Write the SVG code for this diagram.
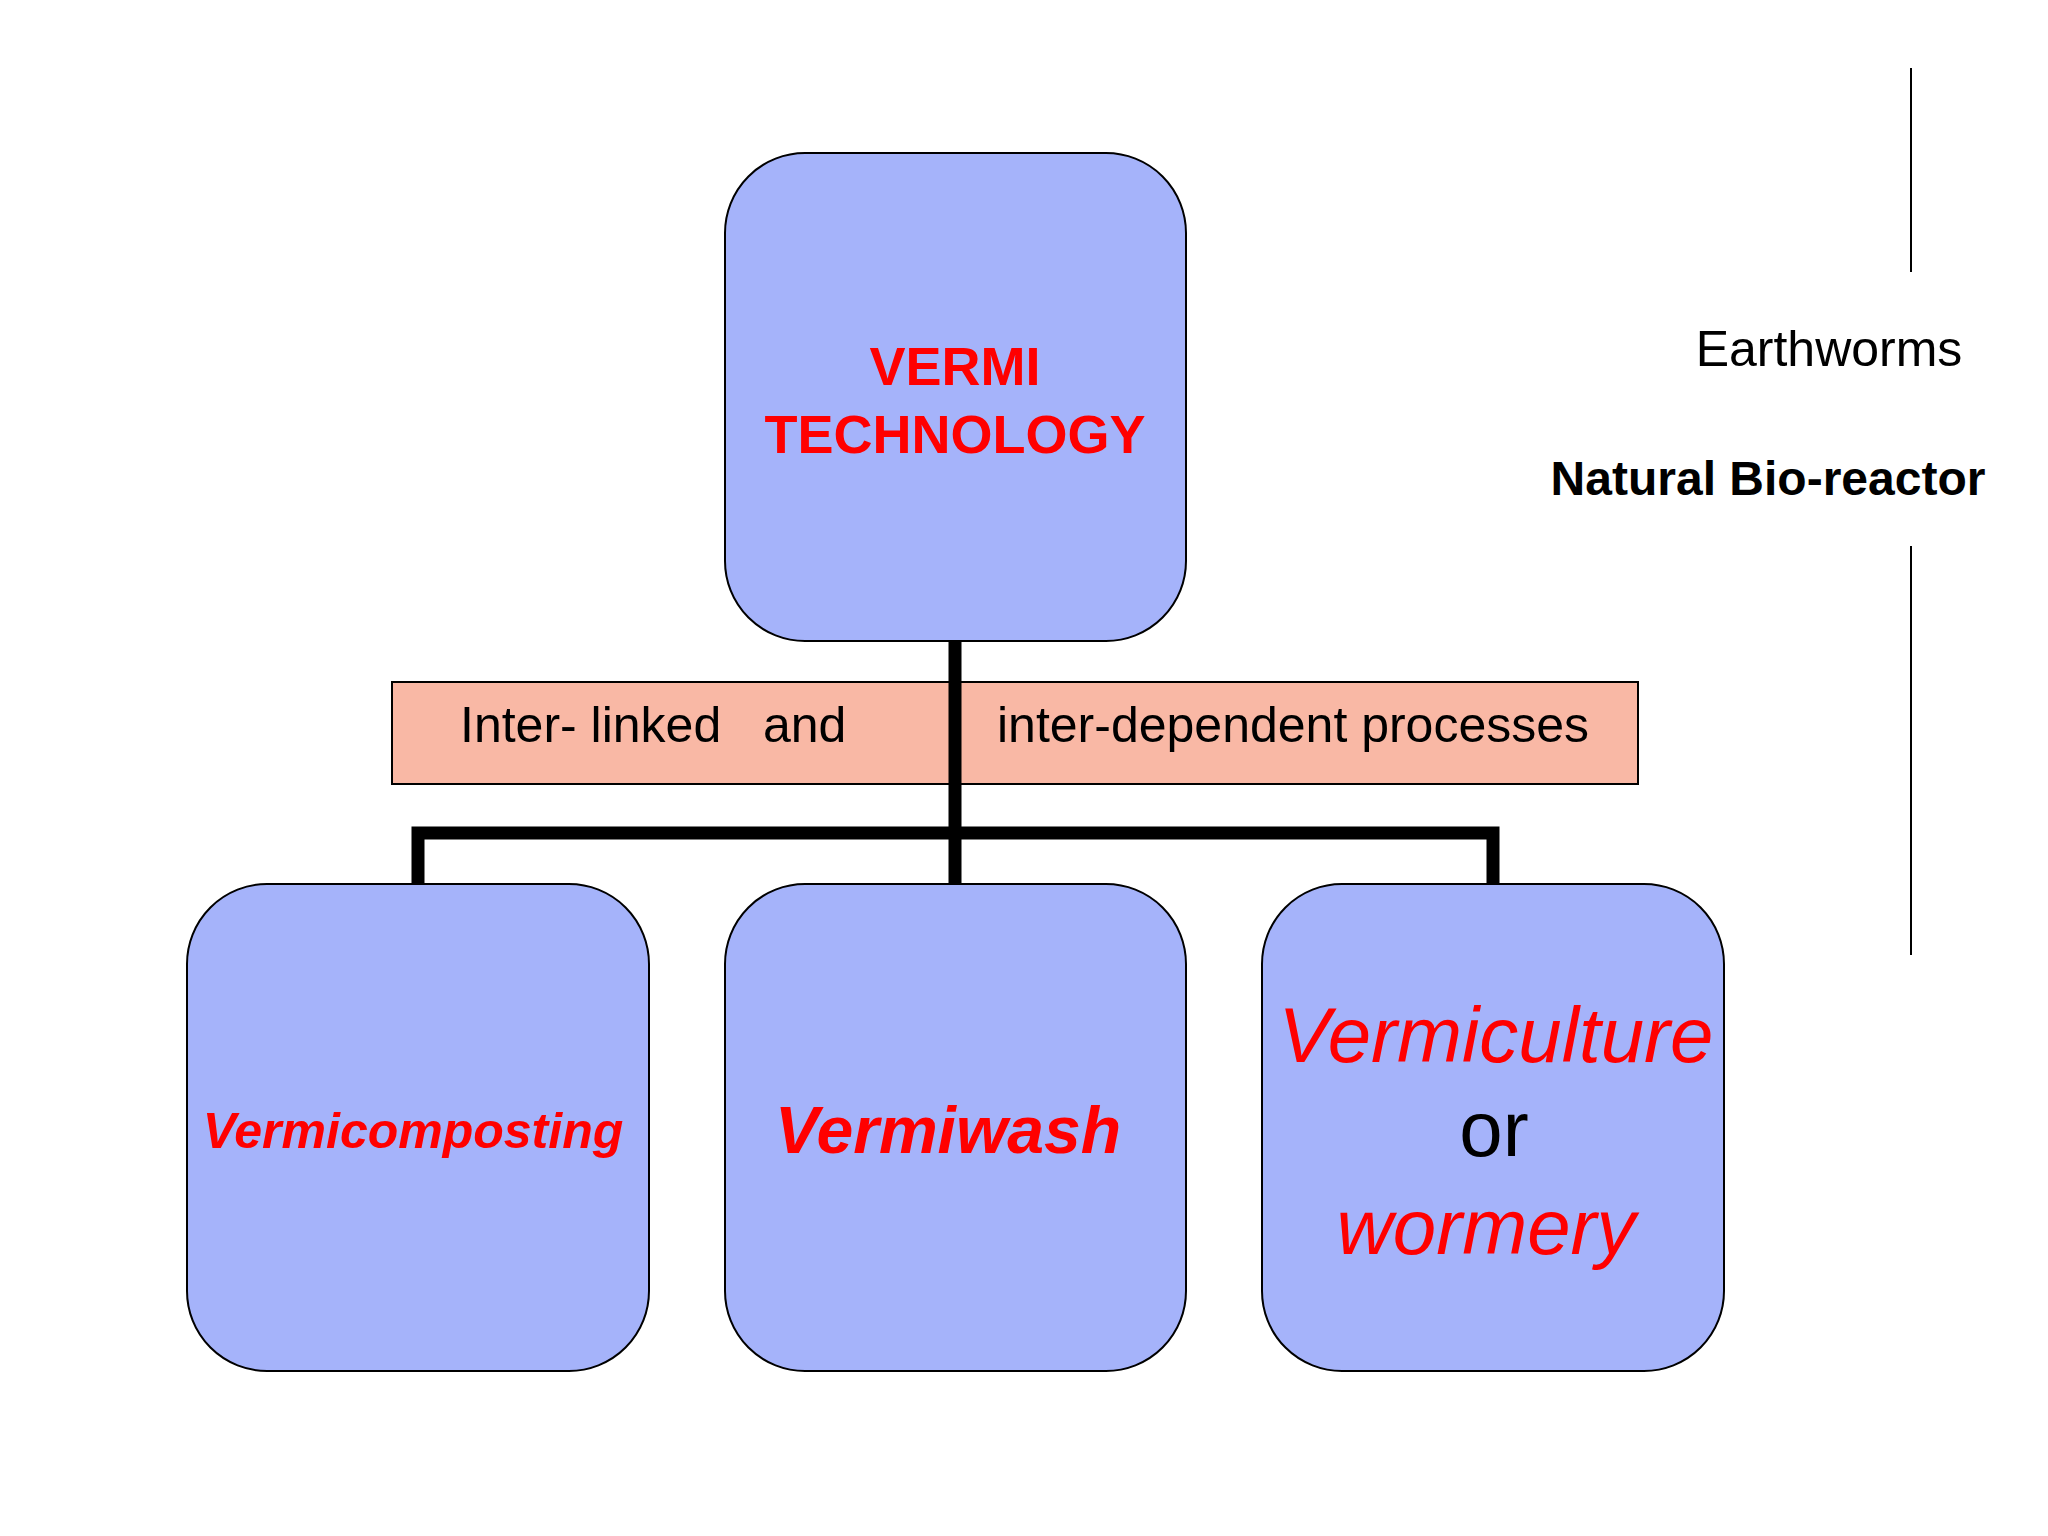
<svg xmlns="http://www.w3.org/2000/svg" width="2048" height="1536" viewBox="0 0 2048 1536">
<style>
.box{fill:#a5b3fa;stroke:#000;stroke-width:2}
.t{font-family:"Liberation Sans",Arial,sans-serif;text-anchor:middle}
.red{fill:#ff0000}
.con{stroke:#000;stroke-width:13;fill:none}
</style>
<rect width="2048" height="1536" fill="#fff"/>
<g id="band"><rect x="392" y="682" width="1246" height="102" fill="#f9b8a5" stroke="#000" stroke-width="2"/>
<text x="460" y="742" font-family="Liberation Sans,Arial,sans-serif" font-size="50" xml:space="preserve">Inter- linked   and</text>
<text x="997" y="742" font-family="Liberation Sans,Arial,sans-serif" font-size="50">inter-dependent processes</text></g>
<g id="connectors">
<path class="con" d="M955 641V884M418 884V833H1493V884"/>
<path d="M1911 68V272M1911 546V955" stroke="#000" stroke-width="2"/>
</g>
<g id="top"><rect class="box" x="725" y="153" width="461" height="488" rx="80"/>
<text class="t red" x="955" y="385" font-size="54" font-weight="bold">VERMI</text>
<text class="t red" x="955" y="453" font-size="54" font-weight="bold">TECHNOLOGY</text></g>
<g id="n1"><rect class="box" x="187" y="884" width="462" height="487" rx="80"/>
<text class="t red" x="413" y="1148" font-size="50" font-weight="bold" font-style="italic">Vermicomposting</text></g>
<g id="n2"><rect class="box" x="725" y="884" width="461" height="487" rx="80"/>
<text class="t red" x="948" y="1153" font-size="66" font-weight="bold" font-style="italic">Vermiwash</text></g>
<g id="n3"><rect class="box" x="1262" y="884" width="462" height="487" rx="80"/>
<text class="t red" x="1496" y="1062" font-size="78" font-style="italic">Vermiculture</text>
<text class="t" x="1494" y="1156" font-size="78">or</text>
<text class="t red" x="1486" y="1254" font-size="78" font-style="italic">wormery</text></g>
<g id="side">
<text class="t" x="1829" y="366" font-size="50">Earthworms</text>
<text class="t" x="1768" y="495" font-size="48" font-weight="bold">Natural Bio-reactor</text></g>
</svg>
